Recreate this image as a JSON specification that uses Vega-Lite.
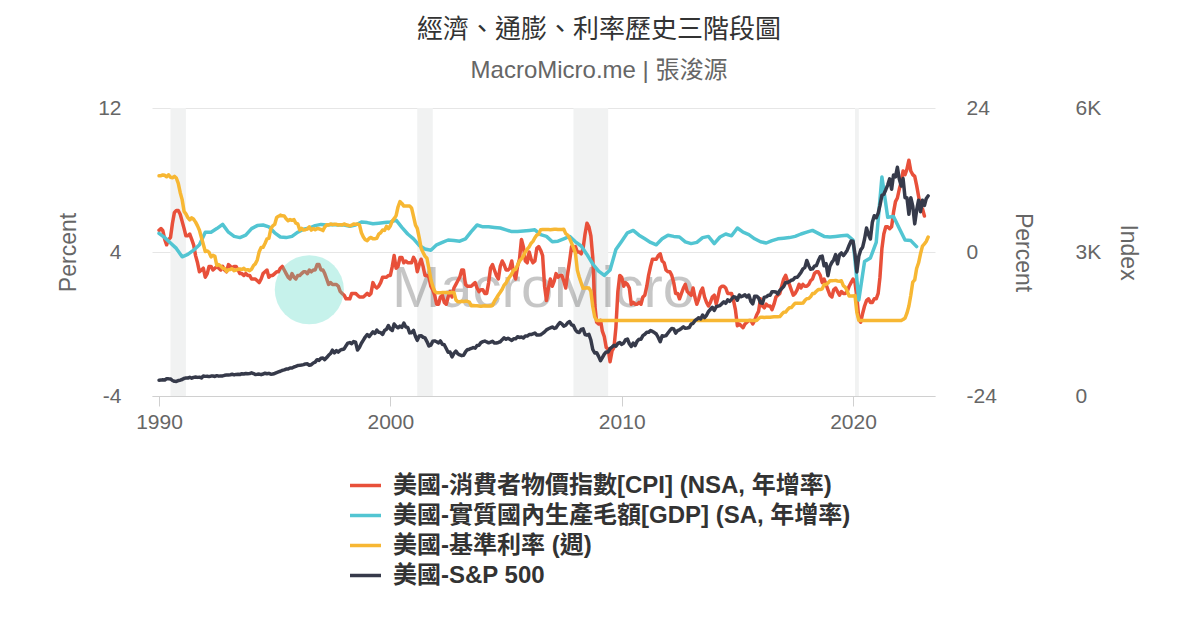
{
"$schema":"https://vega.github.io/schema/vega-lite/v6.json",
"autosize":{"type":"none"},
"width":783,"height":288,
"padding":{"left":152,"top":108,"right":265,"bottom":234},
"background":"white",
"title":{"text":"經濟、通膨、利率歷史三階段圖","subtitle":"MacroMicro.me | 張浚源","anchor":"middle","frame":"group","dx":55.5,"offset":14,"font":"Noto Sans CJK TC","fontSize":26,"fontWeight":"normal","color":"#333333","subtitleFont":"Liberation Sans, Noto Sans CJK TC","subtitleFontSize":24,"subtitleColor":"#666666","subtitlePadding":16},
"config":{"view":{"stroke":null},"axis":{"labelFont":"Liberation Sans","titleFont":"Liberation Sans"},"line":{"strokeWidth":3.5,"strokeJoin":"round","strokeCap":"round"}},
"datasets":{
"r":[{"s":"1990-07","e":"1991-03"},{"s":"2001-03","e":"2001-11"},{"s":"2007-12","e":"2009-06"},{"s":"2020-02","e":"2020-04"}],
"g":[
{"d":"1990-01","v":3.1},{"d":"1990-04","v":2.4},{"d":"1990-07","v":1.5},{"d":"1990-10","v":0.6},
{"d":"1991-01","v":-0.8},{"d":"1991-04","v":-0.4},{"d":"1991-07","v":0.3},{"d":"1991-10","v":1.2},
{"d":"1992-01","v":3.3},{"d":"1992-04","v":3.3},{"d":"1992-07","v":3.9},{"d":"1992-10","v":4.6},
{"d":"1993-01","v":3.3},{"d":"1993-04","v":2.6},{"d":"1993-07","v":2.4},{"d":"1993-10","v":2.8},
{"d":"1994-01","v":3.9},{"d":"1994-04","v":4.4},{"d":"1994-07","v":4.5},{"d":"1994-10","v":4.2},
{"d":"1995-01","v":3.2},{"d":"1995-04","v":2.5},{"d":"1995-07","v":2.4},{"d":"1995-10","v":2.6},
{"d":"1996-01","v":3.3},{"d":"1996-04","v":3.8},{"d":"1996-07","v":4.0},{"d":"1996-10","v":4.4},
{"d":"1997-01","v":4.6},{"d":"1997-04","v":4.5},{"d":"1997-07","v":4.6},{"d":"1997-10","v":4.5},
{"d":"1998-01","v":4.5},{"d":"1998-04","v":4.3},{"d":"1998-07","v":4.5},{"d":"1998-10","v":5.0},
{"d":"1999-01","v":4.9},{"d":"1999-04","v":4.7},{"d":"1999-07","v":4.8},{"d":"1999-10","v":4.9},
{"d":"2000-01","v":5.0},{"d":"2000-04","v":5.3},{"d":"2000-07","v":4.1},{"d":"2000-10","v":3.0},
{"d":"2001-01","v":2.2},{"d":"2001-04","v":1.1},{"d":"2001-07","v":0.5},{"d":"2001-10","v":0.3},
{"d":"2002-01","v":1.2},{"d":"2002-04","v":1.6},{"d":"2002-07","v":2.0},{"d":"2002-10","v":1.9},
{"d":"2003-01","v":1.8},{"d":"2003-04","v":2.2},{"d":"2003-07","v":3.4},{"d":"2003-10","v":4.5},
{"d":"2004-01","v":4.2},{"d":"2004-04","v":4.2},{"d":"2004-07","v":4.1},{"d":"2004-10","v":4.0},
{"d":"2005-01","v":3.7},{"d":"2005-04","v":3.4},{"d":"2005-07","v":3.4},{"d":"2005-10","v":3.5},
{"d":"2006-01","v":3.6},{"d":"2006-04","v":3.7},{"d":"2006-07","v":2.9},{"d":"2006-10","v":2.6},
{"d":"2007-01","v":1.7},{"d":"2007-04","v":1.8},{"d":"2007-07","v":2.2},{"d":"2007-10","v":2.6},
{"d":"2008-01","v":1.7},{"d":"2008-04","v":1.0},{"d":"2008-07","v":-0.4},{"d":"2008-10","v":-2.0},
{"d":"2009-01","v":-3.2},{"d":"2009-04","v":-3.9},{"d":"2009-07","v":-3.0},{"d":"2009-10","v":0.4},
{"d":"2010-01","v":1.8},{"d":"2010-04","v":3.2},{"d":"2010-07","v":3.6},{"d":"2010-10","v":2.8},
{"d":"2011-01","v":2.2},{"d":"2011-04","v":1.6},{"d":"2011-07","v":1.2},{"d":"2011-10","v":2.2},
{"d":"2012-01","v":2.8},{"d":"2012-04","v":2.6},{"d":"2012-07","v":2.5},{"d":"2012-10","v":1.7},
{"d":"2013-01","v":1.4},{"d":"2013-04","v":1.6},{"d":"2013-07","v":2.4},{"d":"2013-10","v":2.6},
{"d":"2014-01","v":1.4},{"d":"2014-04","v":2.5},{"d":"2014-07","v":3.0},{"d":"2014-10","v":2.7},
{"d":"2015-01","v":4.0},{"d":"2015-04","v":3.3},{"d":"2015-07","v":2.9},{"d":"2015-10","v":2.2},
{"d":"2016-01","v":1.7},{"d":"2016-04","v":1.5},{"d":"2016-07","v":1.9},{"d":"2016-10","v":2.2},
{"d":"2017-01","v":2.3},{"d":"2017-04","v":2.4},{"d":"2017-07","v":2.6},{"d":"2017-10","v":3.0},
{"d":"2018-01","v":3.3},{"d":"2018-04","v":3.6},{"d":"2018-07","v":3.1},{"d":"2018-10","v":2.6},
{"d":"2019-01","v":2.5},{"d":"2019-04","v":2.6},{"d":"2019-07","v":2.7},{"d":"2019-10","v":2.8},
{"d":"2020-01","v":2.0},{"d":"2020-04","v":-8.0},{"d":"2020-07","v":-1.6},{"d":"2020-10","v":-1.0},
{"d":"2021-01","v":1.6},{"d":"2021-04","v":12.5},{"d":"2021-07","v":5.8},{"d":"2021-10","v":5.9},
{"d":"2022-01","v":3.9},{"d":"2022-04","v":2.0},{"d":"2022-07","v":1.9},{"d":"2022-10","v":0.9}],
"m":[
{"d":"1990-01","c":5.2,"f":8.23,"s":329},{"d":"1990-02","c":5.3,"f":8.24,"s":331},{"d":"1990-03","c":5.2,"f":8.28,"s":340},{"d":"1990-04","c":4.7,"f":8.26,"s":331},{"d":"1990-05","c":4.4,"f":8.18,"s":361},{"d":"1990-06","c":4.7,"f":8.29,"s":358},{"d":"1990-07","c":4.8,"f":8.15,"s":356},{"d":"1990-08","c":5.6,"f":8.13,"s":323},{"d":"1990-09","c":6.2,"f":8.2,"s":306},{"d":"1990-10","c":6.3,"f":8.11,"s":304},{"d":"1990-11","c":6.3,"f":7.81,"s":322},{"d":"1990-12","c":6.1,"f":7.31,"s":330},
{"d":"1991-01","c":5.7,"f":6.91,"s":344},{"d":"1991-02","c":5.3,"f":6.25,"s":367},{"d":"1991-03","c":4.9,"f":6.12,"s":375},{"d":"1991-04","c":4.9,"f":5.91,"s":375},{"d":"1991-05","c":5.0,"f":5.78,"s":390},{"d":"1991-06","c":4.7,"f":5.9,"s":371},{"d":"1991-07","c":4.4,"f":5.82,"s":388},{"d":"1991-08","c":3.8,"f":5.66,"s":395},{"d":"1991-09","c":3.4,"f":5.45,"s":388},{"d":"1991-10","c":2.9,"f":5.21,"s":392},{"d":"1991-11","c":3.0,"f":4.81,"s":375},{"d":"1991-12","c":3.1,"f":4.43,"s":417},
{"d":"1992-01","c":2.6,"f":4.03,"s":409},{"d":"1992-02","c":2.8,"f":4.06,"s":413},{"d":"1992-03","c":3.2,"f":3.98,"s":404},{"d":"1992-04","c":3.2,"f":3.73,"s":415},{"d":"1992-05","c":3.0,"f":3.82,"s":415},{"d":"1992-06","c":3.1,"f":3.76,"s":408},{"d":"1992-07","c":3.2,"f":3.25,"s":424},{"d":"1992-08","c":3.1,"f":3.3,"s":414},{"d":"1992-09","c":3.0,"f":3.22,"s":418},{"d":"1992-10","c":3.2,"f":3.1,"s":419},{"d":"1992-11","c":3.0,"f":3.09,"s":431},{"d":"1992-12","c":2.9,"f":2.92,"s":436},
{"d":"1993-01","c":3.3,"f":3.02,"s":439},{"d":"1993-02","c":3.2,"f":3.03,"s":443},{"d":"1993-03","c":3.1,"f":3.07,"s":452},{"d":"1993-04","c":3.2,"f":2.96,"s":440},{"d":"1993-05","c":3.2,"f":3.0,"s":450},{"d":"1993-06","c":3.0,"f":3.04,"s":451},{"d":"1993-07","c":2.8,"f":3.06,"s":448},{"d":"1993-08","c":2.8,"f":3.03,"s":464},{"d":"1993-09","c":2.7,"f":3.09,"s":459},{"d":"1993-10","c":2.8,"f":2.99,"s":468},{"d":"1993-11","c":2.7,"f":3.02,"s":462},{"d":"1993-12","c":2.7,"f":2.96,"s":466},
{"d":"1994-01","c":2.5,"f":3.05,"s":482},{"d":"1994-02","c":2.5,"f":3.25,"s":467},{"d":"1994-03","c":2.5,"f":3.34,"s":446},{"d":"1994-04","c":2.4,"f":3.56,"s":451},{"d":"1994-05","c":2.3,"f":4.01,"s":457},{"d":"1994-06","c":2.5,"f":4.25,"s":444},{"d":"1994-07","c":2.8,"f":4.26,"s":458},{"d":"1994-08","c":2.9,"f":4.47,"s":475},{"d":"1994-09","c":3.0,"f":4.73,"s":463},{"d":"1994-10","c":2.6,"f":4.76,"s":472},{"d":"1994-11","c":2.7,"f":5.29,"s":454},{"d":"1994-12","c":2.7,"f":5.45,"s":459},
{"d":"1995-01","c":2.8,"f":5.53,"s":470},{"d":"1995-02","c":2.9,"f":5.92,"s":487},{"d":"1995-03","c":2.9,"f":5.98,"s":501},{"d":"1995-04","c":3.1,"f":6.05,"s":515},{"d":"1995-05","c":3.2,"f":6.01,"s":533},{"d":"1995-06","c":3.0,"f":6.0,"s":545},{"d":"1995-07","c":2.8,"f":5.85,"s":562},{"d":"1995-08","c":2.6,"f":5.74,"s":562},{"d":"1995-09","c":2.5,"f":5.8,"s":584},{"d":"1995-10","c":2.8,"f":5.76,"s":582},{"d":"1995-11","c":2.6,"f":5.8,"s":605},{"d":"1995-12","c":2.5,"f":5.6,"s":616},
{"d":"1996-01","c":2.7,"f":5.56,"s":636},{"d":"1996-02","c":2.7,"f":5.22,"s":640},{"d":"1996-03","c":2.8,"f":5.31,"s":646},{"d":"1996-04","c":2.9,"f":5.22,"s":654},{"d":"1996-05","c":2.9,"f":5.24,"s":669},{"d":"1996-06","c":2.8,"f":5.27,"s":671},{"d":"1996-07","c":3.0,"f":5.4,"s":640},{"d":"1996-08","c":2.9,"f":5.22,"s":652},{"d":"1996-09","c":3.0,"f":5.3,"s":687},{"d":"1996-10","c":3.0,"f":5.24,"s":705},{"d":"1996-11","c":3.3,"f":5.31,"s":757},{"d":"1996-12","c":3.3,"f":5.29,"s":741},
{"d":"1997-01","c":3.0,"f":5.25,"s":786},{"d":"1997-02","c":3.0,"f":5.19,"s":791},{"d":"1997-03","c":2.8,"f":5.39,"s":757},{"d":"1997-04","c":2.5,"f":5.51,"s":801},{"d":"1997-05","c":2.2,"f":5.5,"s":848},{"d":"1997-06","c":2.3,"f":5.56,"s":885},{"d":"1997-07","c":2.2,"f":5.52,"s":954},{"d":"1997-08","c":2.2,"f":5.54,"s":899},{"d":"1997-09","c":2.2,"f":5.54,"s":947},{"d":"1997-10","c":2.1,"f":5.5,"s":915},{"d":"1997-11","c":1.8,"f":5.52,"s":955},{"d":"1997-12","c":1.7,"f":5.5,"s":970},
{"d":"1998-01","c":1.6,"f":5.56,"s":980},{"d":"1998-02","c":1.4,"f":5.51,"s":1049},{"d":"1998-03","c":1.4,"f":5.49,"s":1102},{"d":"1998-04","c":1.4,"f":5.45,"s":1112},{"d":"1998-05","c":1.7,"f":5.49,"s":1091},{"d":"1998-06","c":1.7,"f":5.56,"s":1134},{"d":"1998-07","c":1.7,"f":5.54,"s":1121},{"d":"1998-08","c":1.6,"f":5.55,"s":957},{"d":"1998-09","c":1.5,"f":5.51,"s":1017},{"d":"1998-10","c":1.5,"f":5.07,"s":1099},{"d":"1998-11","c":1.5,"f":4.83,"s":1164},{"d":"1998-12","c":1.6,"f":4.68,"s":1229},
{"d":"1999-01","c":1.7,"f":4.63,"s":1280},{"d":"1999-02","c":1.6,"f":4.76,"s":1238},{"d":"1999-03","c":1.7,"f":4.81,"s":1286},{"d":"1999-04","c":2.3,"f":4.74,"s":1335},{"d":"1999-05","c":2.1,"f":4.74,"s":1302},{"d":"1999-06","c":2.0,"f":4.76,"s":1373},{"d":"1999-07","c":2.1,"f":4.99,"s":1329},{"d":"1999-08","c":2.3,"f":5.07,"s":1320},{"d":"1999-09","c":2.6,"f":5.22,"s":1283},{"d":"1999-10","c":2.6,"f":5.2,"s":1363},{"d":"1999-11","c":2.6,"f":5.42,"s":1389},{"d":"1999-12","c":2.7,"f":5.3,"s":1469},
{"d":"2000-01","c":2.7,"f":5.45,"s":1394},{"d":"2000-02","c":3.2,"f":5.73,"s":1366},{"d":"2000-03","c":3.8,"f":5.85,"s":1499},{"d":"2000-04","c":3.1,"f":6.02,"s":1452},{"d":"2000-05","c":3.2,"f":6.5,"s":1421},{"d":"2000-06","c":3.7,"f":6.8,"s":1455},{"d":"2000-07","c":3.7,"f":6.7,"s":1431},{"d":"2000-08","c":3.4,"f":6.55,"s":1518},{"d":"2000-09","c":3.5,"f":6.55,"s":1437},{"d":"2000-10","c":3.4,"f":6.55,"s":1429},{"d":"2000-11","c":3.4,"f":6.55,"s":1315},{"d":"2000-12","c":3.4,"f":6.45,"s":1320},
{"d":"2001-01","c":3.7,"f":5.98,"s":1366},{"d":"2001-02","c":3.5,"f":5.49,"s":1240},{"d":"2001-03","c":2.9,"f":5.31,"s":1160},{"d":"2001-04","c":3.3,"f":4.8,"s":1249},{"d":"2001-05","c":3.6,"f":4.21,"s":1256},{"d":"2001-06","c":3.2,"f":3.97,"s":1224},{"d":"2001-07","c":2.7,"f":3.77,"s":1211},{"d":"2001-08","c":2.7,"f":3.65,"s":1134},{"d":"2001-09","c":2.6,"f":3.07,"s":1041},{"d":"2001-10","c":2.1,"f":2.49,"s":1060},{"d":"2001-11","c":1.9,"f":2.09,"s":1139},{"d":"2001-12","c":1.6,"f":1.82,"s":1148},
{"d":"2002-01","c":1.1,"f":1.73,"s":1130},{"d":"2002-02","c":1.1,"f":1.74,"s":1107},{"d":"2002-03","c":1.5,"f":1.73,"s":1147},{"d":"2002-04","c":1.6,"f":1.75,"s":1077},{"d":"2002-05","c":1.2,"f":1.75,"s":1067},{"d":"2002-06","c":1.1,"f":1.75,"s":990},{"d":"2002-07","c":1.5,"f":1.73,"s":912},{"d":"2002-08","c":1.8,"f":1.74,"s":916},{"d":"2002-09","c":1.5,"f":1.75,"s":815},{"d":"2002-10","c":2.0,"f":1.75,"s":886},{"d":"2002-11","c":2.2,"f":1.34,"s":936},{"d":"2002-12","c":2.4,"f":1.24,"s":880},
{"d":"2003-01","c":2.6,"f":1.24,"s":856},{"d":"2003-02","c":3.0,"f":1.26,"s":841},{"d":"2003-03","c":3.0,"f":1.25,"s":848},{"d":"2003-04","c":2.2,"f":1.26,"s":917},{"d":"2003-05","c":2.1,"f":1.26,"s":964},{"d":"2003-06","c":2.1,"f":1.22,"s":975},{"d":"2003-07","c":2.1,"f":1.01,"s":990},{"d":"2003-08","c":2.2,"f":1.03,"s":1008},{"d":"2003-09","c":2.3,"f":1.01,"s":996},{"d":"2003-10","c":2.0,"f":1.01,"s":1051},{"d":"2003-11","c":1.8,"f":1.0,"s":1058},{"d":"2003-12","c":1.9,"f":0.98,"s":1112},
{"d":"2004-01","c":1.9,"f":1.0,"s":1131},{"d":"2004-02","c":1.7,"f":1.01,"s":1145},{"d":"2004-03","c":1.7,"f":1.0,"s":1126},{"d":"2004-04","c":2.3,"f":1.0,"s":1107},{"d":"2004-05","c":3.1,"f":1.0,"s":1121},{"d":"2004-06","c":3.3,"f":1.03,"s":1141},{"d":"2004-07","c":3.0,"f":1.26,"s":1102},{"d":"2004-08","c":2.7,"f":1.43,"s":1104},{"d":"2004-09","c":2.5,"f":1.61,"s":1115},{"d":"2004-10","c":3.2,"f":1.76,"s":1130},{"d":"2004-11","c":3.5,"f":1.93,"s":1174},{"d":"2004-12","c":3.3,"f":2.16,"s":1212},
{"d":"2005-01","c":3.0,"f":2.28,"s":1181},{"d":"2005-02","c":3.0,"f":2.5,"s":1204},{"d":"2005-03","c":3.1,"f":2.63,"s":1181},{"d":"2005-04","c":3.5,"f":2.79,"s":1157},{"d":"2005-05","c":2.8,"f":3.0,"s":1192},{"d":"2005-06","c":2.5,"f":3.04,"s":1191},{"d":"2005-07","c":3.2,"f":3.26,"s":1234},{"d":"2005-08","c":3.6,"f":3.5,"s":1220},{"d":"2005-09","c":4.7,"f":3.62,"s":1229},{"d":"2005-10","c":4.3,"f":3.78,"s":1207},{"d":"2005-11","c":3.5,"f":4.0,"s":1249},{"d":"2005-12","c":3.4,"f":4.16,"s":1248},
{"d":"2006-01","c":4.0,"f":4.29,"s":1280},{"d":"2006-02","c":3.6,"f":4.49,"s":1281},{"d":"2006-03","c":3.4,"f":4.59,"s":1295},{"d":"2006-04","c":3.5,"f":4.79,"s":1311},{"d":"2006-05","c":4.2,"f":4.94,"s":1270},{"d":"2006-06","c":4.3,"f":4.99,"s":1270},{"d":"2006-07","c":4.1,"f":5.24,"s":1277},{"d":"2006-08","c":3.8,"f":5.25,"s":1304},{"d":"2006-09","c":2.1,"f":5.25,"s":1336},{"d":"2006-10","c":1.3,"f":5.25,"s":1378},{"d":"2006-11","c":2.0,"f":5.25,"s":1401},{"d":"2006-12","c":2.5,"f":5.24,"s":1418},
{"d":"2007-01","c":2.1,"f":5.25,"s":1438},{"d":"2007-02","c":2.4,"f":5.26,"s":1407},{"d":"2007-03","c":2.8,"f":5.26,"s":1421},{"d":"2007-04","c":2.6,"f":5.25,"s":1482},{"d":"2007-05","c":2.7,"f":5.25,"s":1531},{"d":"2007-06","c":2.7,"f":5.25,"s":1503},{"d":"2007-07","c":2.4,"f":5.26,"s":1455},{"d":"2007-08","c":2.0,"f":5.02,"s":1474},{"d":"2007-09","c":2.8,"f":4.94,"s":1527},{"d":"2007-10","c":3.5,"f":4.76,"s":1549},{"d":"2007-11","c":4.3,"f":4.49,"s":1481},{"d":"2007-12","c":4.1,"f":4.24,"s":1468},
{"d":"2008-01","c":4.3,"f":3.94,"s":1379},{"d":"2008-02","c":4.0,"f":2.98,"s":1331},{"d":"2008-03","c":4.0,"f":2.61,"s":1323},{"d":"2008-04","c":3.9,"f":2.28,"s":1386},{"d":"2008-05","c":4.2,"f":1.98,"s":1400},{"d":"2008-06","c":5.0,"f":2.0,"s":1280},{"d":"2008-07","c":5.6,"f":2.01,"s":1267},{"d":"2008-08","c":5.4,"f":2.0,"s":1283},{"d":"2008-09","c":4.9,"f":1.81,"s":1166},{"d":"2008-10","c":3.7,"f":0.97,"s":969},{"d":"2008-11","c":1.1,"f":0.39,"s":896},{"d":"2008-12","c":0.1,"f":0.2,"s":903},
{"d":"2009-01","c":0.0,"f":0.2,"s":826},{"d":"2009-02","c":0.2,"f":0.2,"s":735},{"d":"2009-03","c":-0.4,"f":0.2,"s":798},{"d":"2009-04","c":-0.7,"f":0.2,"s":873},{"d":"2009-05","c":-1.3,"f":0.2,"s":919},{"d":"2009-06","c":-1.4,"f":0.2,"s":919},{"d":"2009-07","c":-2.1,"f":0.2,"s":987},{"d":"2009-08","c":-1.5,"f":0.2,"s":1021},{"d":"2009-09","c":-1.3,"f":0.2,"s":1057},{"d":"2009-10","c":-0.2,"f":0.2,"s":1036},{"d":"2009-11","c":1.8,"f":0.2,"s":1096},{"d":"2009-12","c":2.7,"f":0.2,"s":1115},
{"d":"2010-01","c":2.6,"f":0.2,"s":1074},{"d":"2010-02","c":2.1,"f":0.2,"s":1104},{"d":"2010-03","c":2.3,"f":0.2,"s":1169},{"d":"2010-04","c":2.2,"f":0.2,"s":1187},{"d":"2010-05","c":2.0,"f":0.2,"s":1089},{"d":"2010-06","c":1.1,"f":0.2,"s":1031},{"d":"2010-07","c":1.2,"f":0.2,"s":1102},{"d":"2010-08","c":1.1,"f":0.2,"s":1049},{"d":"2010-09","c":1.1,"f":0.2,"s":1141},{"d":"2010-10","c":1.2,"f":0.2,"s":1183},{"d":"2010-11","c":1.1,"f":0.2,"s":1181},{"d":"2010-12","c":1.5,"f":0.2,"s":1258},
{"d":"2011-01","c":1.6,"f":0.2,"s":1286},{"d":"2011-02","c":2.1,"f":0.2,"s":1327},{"d":"2011-03","c":2.7,"f":0.2,"s":1326},{"d":"2011-04","c":3.2,"f":0.2,"s":1364},{"d":"2011-05","c":3.6,"f":0.2,"s":1345},{"d":"2011-06","c":3.6,"f":0.2,"s":1321},{"d":"2011-07","c":3.6,"f":0.2,"s":1292},{"d":"2011-08","c":3.8,"f":0.2,"s":1219},{"d":"2011-09","c":3.9,"f":0.2,"s":1131},{"d":"2011-10","c":3.5,"f":0.2,"s":1253},{"d":"2011-11","c":3.4,"f":0.2,"s":1247},{"d":"2011-12","c":3.0,"f":0.2,"s":1258},
{"d":"2012-01","c":2.9,"f":0.2,"s":1312},{"d":"2012-02","c":2.9,"f":0.2,"s":1366},{"d":"2012-03","c":2.7,"f":0.2,"s":1408},{"d":"2012-04","c":2.3,"f":0.2,"s":1398},{"d":"2012-05","c":1.7,"f":0.2,"s":1310},{"d":"2012-06","c":1.7,"f":0.2,"s":1362},{"d":"2012-07","c":1.4,"f":0.2,"s":1379},{"d":"2012-08","c":1.7,"f":0.2,"s":1407},{"d":"2012-09","c":2.0,"f":0.2,"s":1441},{"d":"2012-10","c":2.2,"f":0.2,"s":1412},{"d":"2012-11","c":1.8,"f":0.2,"s":1416},{"d":"2012-12","c":1.7,"f":0.2,"s":1426},
{"d":"2013-01","c":1.6,"f":0.2,"s":1498},{"d":"2013-02","c":2.0,"f":0.2,"s":1515},{"d":"2013-03","c":1.5,"f":0.2,"s":1569},{"d":"2013-04","c":1.1,"f":0.2,"s":1598},{"d":"2013-05","c":1.4,"f":0.2,"s":1631},{"d":"2013-06","c":1.8,"f":0.2,"s":1606},{"d":"2013-07","c":2.0,"f":0.2,"s":1686},{"d":"2013-08","c":1.5,"f":0.2,"s":1633},{"d":"2013-09","c":1.2,"f":0.2,"s":1682},{"d":"2013-10","c":1.0,"f":0.2,"s":1757},{"d":"2013-11","c":1.2,"f":0.2,"s":1806},{"d":"2013-12","c":1.5,"f":0.2,"s":1848},
{"d":"2014-01","c":1.6,"f":0.2,"s":1783},{"d":"2014-02","c":1.1,"f":0.2,"s":1859},{"d":"2014-03","c":1.5,"f":0.2,"s":1872},{"d":"2014-04","c":2.0,"f":0.2,"s":1884},{"d":"2014-05","c":2.1,"f":0.2,"s":1924},{"d":"2014-06","c":2.1,"f":0.2,"s":1960},{"d":"2014-07","c":2.0,"f":0.2,"s":1931},{"d":"2014-08","c":1.7,"f":0.2,"s":2003},{"d":"2014-09","c":1.7,"f":0.2,"s":1972},{"d":"2014-10","c":1.7,"f":0.2,"s":2018},{"d":"2014-11","c":1.3,"f":0.2,"s":2068},{"d":"2014-12","c":0.8,"f":0.2,"s":2059},
{"d":"2015-01","c":-0.1,"f":0.2,"s":1995},{"d":"2015-02","c":0.0,"f":0.2,"s":2105},{"d":"2015-03","c":-0.1,"f":0.2,"s":2068},{"d":"2015-04","c":-0.2,"f":0.2,"s":2086},{"d":"2015-05","c":0.0,"f":0.2,"s":2107},{"d":"2015-06","c":0.1,"f":0.2,"s":2063},{"d":"2015-07","c":0.2,"f":0.2,"s":2104},{"d":"2015-08","c":0.2,"f":0.2,"s":1972},{"d":"2015-09","c":0.0,"f":0.2,"s":1920},{"d":"2015-10","c":0.2,"f":0.2,"s":2079},{"d":"2015-11","c":0.5,"f":0.2,"s":2080},{"d":"2015-12","c":0.7,"f":0.3,"s":2044},
{"d":"2016-01","c":1.4,"f":0.38,"s":1940},{"d":"2016-02","c":1.0,"f":0.38,"s":1932},{"d":"2016-03","c":0.9,"f":0.36,"s":2060},{"d":"2016-04","c":1.1,"f":0.37,"s":2065},{"d":"2016-05","c":1.0,"f":0.37,"s":2097},{"d":"2016-06","c":1.0,"f":0.38,"s":2099},{"d":"2016-07","c":0.8,"f":0.39,"s":2174},{"d":"2016-08","c":1.1,"f":0.4,"s":2171},{"d":"2016-09","c":1.5,"f":0.4,"s":2168},{"d":"2016-10","c":1.6,"f":0.4,"s":2126},{"d":"2016-11","c":1.7,"f":0.41,"s":2199},{"d":"2016-12","c":2.1,"f":0.54,"s":2239},
{"d":"2017-01","c":2.5,"f":0.65,"s":2279},{"d":"2017-02","c":2.7,"f":0.66,"s":2364},{"d":"2017-03","c":2.4,"f":0.79,"s":2363},{"d":"2017-04","c":2.2,"f":0.9,"s":2384},{"d":"2017-05","c":1.9,"f":0.91,"s":2412},{"d":"2017-06","c":1.6,"f":1.04,"s":2423},{"d":"2017-07","c":1.7,"f":1.15,"s":2470},{"d":"2017-08","c":1.9,"f":1.16,"s":2472},{"d":"2017-09","c":2.2,"f":1.15,"s":2519},{"d":"2017-10","c":2.0,"f":1.15,"s":2575},{"d":"2017-11","c":2.2,"f":1.16,"s":2648},{"d":"2017-12","c":2.1,"f":1.3,"s":2674},
{"d":"2018-01","c":2.1,"f":1.41,"s":2824},{"d":"2018-02","c":2.2,"f":1.42,"s":2714},{"d":"2018-03","c":2.4,"f":1.51,"s":2641},{"d":"2018-04","c":2.5,"f":1.69,"s":2648},{"d":"2018-05","c":2.8,"f":1.7,"s":2705},{"d":"2018-06","c":2.9,"f":1.82,"s":2718},{"d":"2018-07","c":2.9,"f":1.91,"s":2816},{"d":"2018-08","c":2.7,"f":1.91,"s":2902},{"d":"2018-09","c":2.3,"f":1.95,"s":2914},{"d":"2018-10","c":2.5,"f":2.19,"s":2712},{"d":"2018-11","c":2.2,"f":2.2,"s":2760},{"d":"2018-12","c":1.9,"f":2.27,"s":2507},
{"d":"2019-01","c":1.6,"f":2.4,"s":2704},{"d":"2019-02","c":1.5,"f":2.4,"s":2784},{"d":"2019-03","c":1.9,"f":2.41,"s":2834},{"d":"2019-04","c":2.0,"f":2.42,"s":2946},{"d":"2019-05","c":1.8,"f":2.39,"s":2752},{"d":"2019-06","c":1.6,"f":2.38,"s":2942},{"d":"2019-07","c":1.8,"f":2.4,"s":2980},{"d":"2019-08","c":1.7,"f":2.13,"s":2926},{"d":"2019-09","c":1.7,"f":2.04,"s":2977},{"d":"2019-10","c":1.8,"f":1.83,"s":3038},{"d":"2019-11","c":2.1,"f":1.55,"s":3141},{"d":"2019-12","c":2.3,"f":1.55,"s":3231},
{"d":"2020-01","c":2.5,"f":1.55,"s":3226},{"d":"2020-02","c":2.3,"f":1.58,"s":2954},{"d":"2020-03","c":1.5,"f":0.65,"s":2585},{"d":"2020-04","c":0.3,"f":0.2,"s":2912},{"d":"2020-05","c":0.1,"f":0.2,"s":3044},{"d":"2020-06","c":0.6,"f":0.2,"s":3100},{"d":"2020-07","c":1.0,"f":0.2,"s":3271},{"d":"2020-08","c":1.3,"f":0.2,"s":3500},{"d":"2020-09","c":1.4,"f":0.2,"s":3363},{"d":"2020-10","c":1.2,"f":0.2,"s":3270},{"d":"2020-11","c":1.2,"f":0.2,"s":3622},{"d":"2020-12","c":1.4,"f":0.2,"s":3756},
{"d":"2021-01","c":1.4,"f":0.2,"s":3714},{"d":"2021-02","c":1.7,"f":0.2,"s":3811},{"d":"2021-03","c":2.6,"f":0.2,"s":3973},{"d":"2021-04","c":4.2,"f":0.2,"s":4181},{"d":"2021-05","c":5.0,"f":0.2,"s":4204},{"d":"2021-06","c":5.4,"f":0.2,"s":4298},{"d":"2021-07","c":5.4,"f":0.2,"s":4395},{"d":"2021-08","c":5.3,"f":0.2,"s":4523},{"d":"2021-09","c":5.4,"f":0.2,"s":4308},{"d":"2021-10","c":6.2,"f":0.2,"s":4605},{"d":"2021-11","c":6.8,"f":0.2,"s":4567},{"d":"2021-12","c":7.0,"f":0.2,"s":4766},
{"d":"2022-01","c":7.5,"f":0.2,"s":4516},{"d":"2022-02","c":7.9,"f":0.2,"s":4374},{"d":"2022-03","c":8.5,"f":0.25,"s":4530},{"d":"2022-04","c":8.3,"f":0.33,"s":4132},{"d":"2022-05","c":8.6,"f":0.6,"s":4132},{"d":"2022-06","c":9.1,"f":1.0,"s":3785},{"d":"2022-07","c":8.5,"f":1.6,"s":4130},{"d":"2022-08","c":8.3,"f":2.33,"s":3955},{"d":"2022-09","c":8.2,"f":2.45,"s":3586},{"d":"2022-10","c":7.7,"f":3.08,"s":3872},{"d":"2022-11","c":7.1,"f":3.4,"s":4080},{"d":"2022-12","c":6.5,"f":3.9,"s":3840},
{"d":"2023-01","c":6.4,"f":4.33,"s":4077},{"d":"2023-02","c":6.0,"f":4.45,"s":3970},{"d":"2023-03","c":null,"f":4.58,"s":4109},{"d":"2023-04","c":null,"f":4.83,"s":4169}]
},
"layer":[
{"data":{"name":"r"},"mark":{"type":"rect","color":"#f1f2f2"},"encoding":{"x":{"field":"s","type":"temporal","scale":{"type":"utc","domain":[621561600000,1689638400000]},"axis":{"values":[631152000000,946684800000,1262304000000,1577836800000],"format":"%Y","formatType":"utc","title":null,"grid":false,"labelFontSize":21,"labelColor":"#666666","tickSize":10,"tickColor":"#d0d0d0","domainColor":"#d0d0d0","labelPadding":5,"labelFlush":false}},"x2":{"field":"e"}}},
{"data":{"values":[{}]},"mark":{"type":"text","text":"MacroMicro","font":"Liberation Sans","fontSize":58,"color":"#000000","opacity":0.22,"align":"center","baseline":"middle"},"encoding":{"x":{"datum":1155600000000,"type":"temporal","axis":null},"y":{"datum":1.9,"type":"quantitative","scale":{"domain":[-4,12],"nice":false,"zero":false},"axis":null}}},
{"data":{"name":"m"},"mark":{"type":"line"},"encoding":{"x":{"field":"d","type":"temporal","axis":null},"y":{"field":"c","type":"quantitative","scale":{"domain":[-4,12],"nice":false,"zero":false},"axis":{"orient":"left","values":[-4,4,12],"labelExpr":"'' + datum.value","title":"Percent","grid":true,"gridColor":"#e6e6e6","ticks":false,"tickSize":0,"domain":false,"labelPadding":31,"labelFontSize":21,"labelColor":"#666666","titleFontSize":23,"titleColor":"#666666","titleFontWeight":"normal","titlePadding":17}},"color":{"datum":"美國-消費者物價指數[CPI] (NSA, 年增率)","type":"nominal","scale":{"domain":["美國-消費者物價指數[CPI] (NSA, 年增率)","美國-實質國內生產毛額[GDP] (SA, 年增率)","美國-基準利率 (週)","美國-S&P 500"],"range":["#e8503a","#52c5d2","#f7b733","#363a4a"]},"legend":{"orient":"none","legendX":196,"legendY":360,"direction":"vertical","title":null,"labelFont":"Liberation Sans, Noto Sans CJK TC","labelFontSize":24,"labelFontWeight":"bold","labelColor":"#333333","labelLimit":800,"symbolType":"stroke","symbolSize":961,"symbolStrokeWidth":4,"rowPadding":0,"labelOffset":10,"padding":0}}}},
{"data":{"name":"g"},"mark":{"type":"line"},"encoding":{"x":{"field":"d","type":"temporal","axis":null},"y":{"field":"v","type":"quantitative","scale":{"domain":[-24,24],"nice":false,"zero":false},"axis":{"orient":"right","values":[-24,0,24],"labelExpr":"'' + datum.value","title":"Percent","grid":false,"ticks":false,"tickSize":0,"domain":false,"labelPadding":31,"labelFontSize":21,"labelColor":"#666666","titleFontSize":23,"titleColor":"#666666","titleFontWeight":"normal","titlePadding":14}},"color":{"datum":"美國-實質國內生產毛額[GDP] (SA, 年增率)","type":"nominal"}}},
{"data":{"name":"m"},"mark":{"type":"line"},"encoding":{"x":{"field":"d","type":"temporal","axis":null},"y":{"field":"f","type":"quantitative","scale":{"domain":[-4,12],"nice":false,"zero":false},"axis":null},"color":{"datum":"美國-基準利率 (週)","type":"nominal"}}},
{"data":{"name":"m"},"mark":{"type":"line"},"encoding":{"x":{"field":"d","type":"temporal","axis":null},"y":{"field":"s","type":"quantitative","scale":{"domain":[0,6000],"nice":false,"zero":false},"axis":{"orient":"right","offset":108,"values":[0,3000,6000],"labelExpr":"datum.value == 0 ? '0' : (datum.value/1000) + 'K'","title":"Index","grid":false,"ticks":false,"tickSize":0,"domain":false,"labelPadding":32,"labelFontSize":21,"labelColor":"#666666","titleFontSize":23,"titleColor":"#666666","titleFontWeight":"normal","titlePadding":15}},"color":{"datum":"美國-S&P 500","type":"nominal"}}},
{"data":{"values":[{}]},"mark":{"type":"point","filled":true,"shape":"circle","size":4780,"color":"#4fd8c0","opacity":0.32},"encoding":{"x":{"datum":836179200000,"type":"temporal","axis":null},"y":{"datum":1.9,"type":"quantitative","scale":{"domain":[-4,12],"nice":false,"zero":false},"axis":null}}}
],
"resolve":{"scale":{"y":"independent"},"axis":{"x":"independent"}}
}
